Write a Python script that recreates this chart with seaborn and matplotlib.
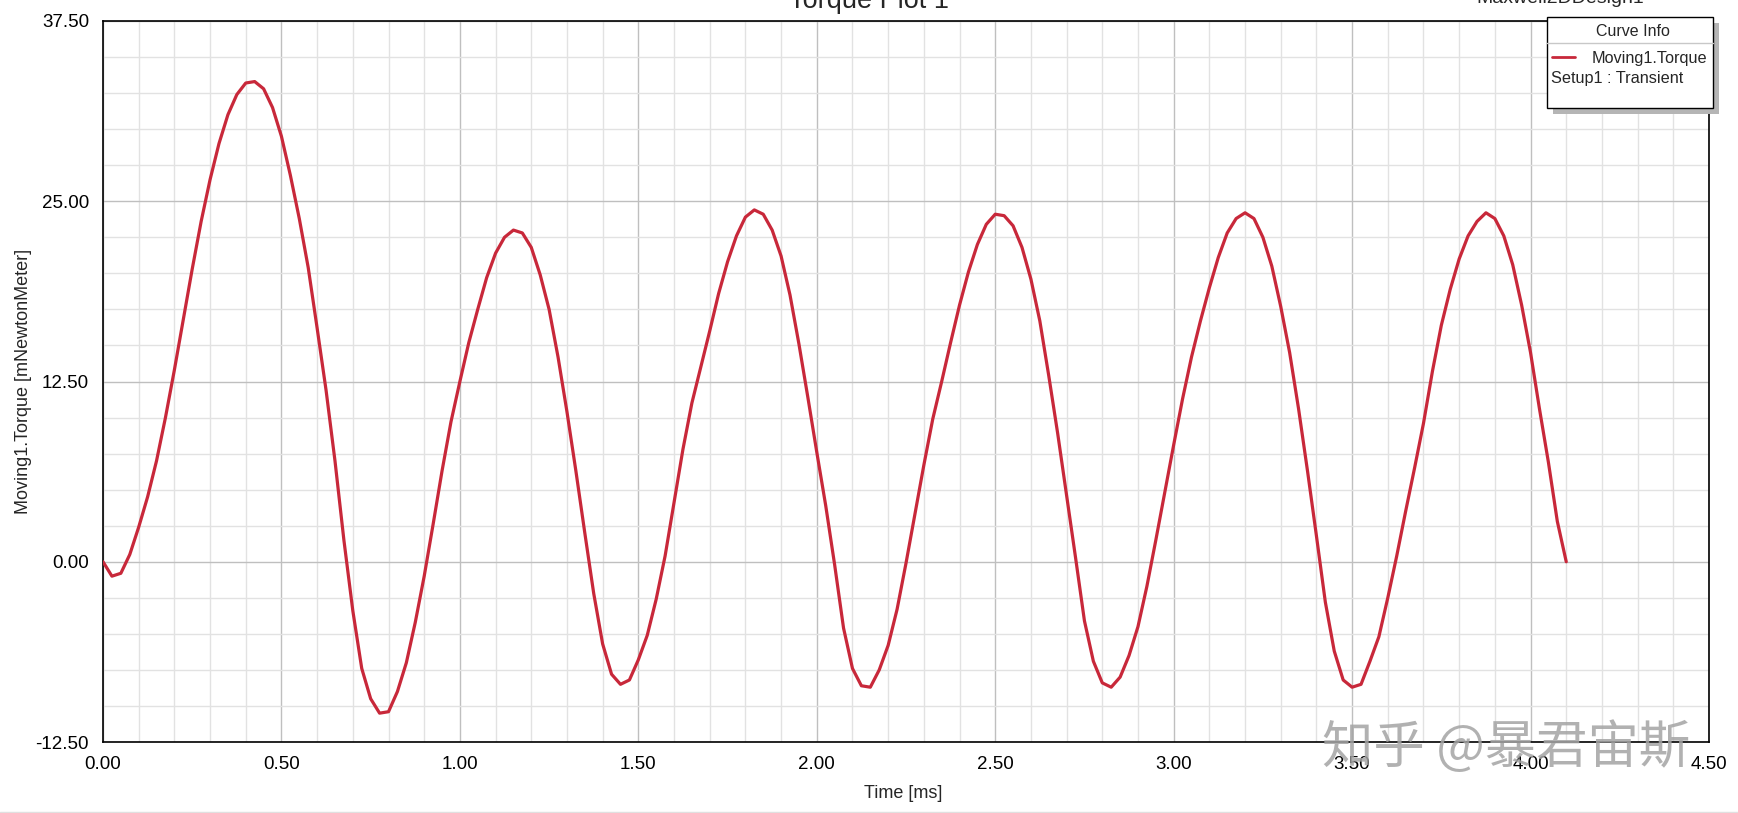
import numpy as np
import pandas as pd
import matplotlib
matplotlib.use("Agg")
import matplotlib.pyplot as plt
import seaborn as sns
from matplotlib.ticker import MultipleLocator, FormatStrFormatter
from matplotlib.patches import Rectangle
from matplotlib.lines import Line2D

# transient torque, one sample every 0.025 ms from 0 to 4.1 ms
time_step_ms = 0.025
torque_mNm = [
    0.0, -1.0, -0.8, 0.5, 2.4, 4.5, 7.0, 10.0, 13.3, 16.8,
    20.3, 23.6, 26.5, 29.0, 31.0, 32.4, 33.2, 33.3, 32.8, 31.5,
    29.5, 26.8, 23.8, 20.4, 16.2, 11.9, 7.0, 1.5, -3.4, -7.4,
    -9.5, -10.5, -10.4, -9.0, -7.0, -4.2, -1.0, 2.6, 6.3, 9.7,
    12.5, 15.2, 17.5, 19.7, 21.4, 22.5, 23.0, 22.8, 21.8, 19.9,
    17.5, 14.2, 10.4, 6.3, 2.0, -2.2, -5.7, -7.8, -8.5, -8.2,
    -6.8, -5.1, -2.6, 0.4, 4.1, 7.8, 11.0, 13.5, 16.0, 18.6,
    20.8, 22.6, 23.9, 24.4, 24.1, 23.0, 21.2, 18.5, 15.1, 11.4,
    7.6, 3.9, -0.2, -4.6, -7.4, -8.6, -8.7, -7.5, -5.8, -3.3,
    -0.1, 3.3, 6.7, 9.9, 12.5, 15.2, 17.8, 20.1, 22.0, 23.4,
    24.1, 24.0, 23.3, 21.8, 19.6, 16.7, 12.9, 8.9, 4.6, 0.3,
    -4.1, -6.9, -8.4, -8.7, -8.0, -6.5, -4.5, -1.7, 1.5, 4.8,
    8.1, 11.3, 14.2, 16.7, 19.0, 21.1, 22.8, 23.8, 24.2, 23.8,
    22.5, 20.5, 17.7, 14.5, 10.6, 6.3, 1.8, -2.8, -6.2, -8.2,
    -8.7, -8.5, -6.9, -5.2, -2.5, 0.4, 3.5, 6.5, 9.6, 13.2,
    16.4, 18.9, 21.0, 22.6, 23.6, 24.2, 23.8, 22.6, 20.6, 17.8,
    14.5, 10.6, 6.9, 2.8, 0.0,
]
time_ms = np.round(np.arange(len(torque_mNm)) * time_step_ms, 3)

x_limits = (0.0, 4.5)
y_limits = (-12.5, 37.5)

W, H = 1738, 813


def fig_xy(px, py):
    # pixel position (from top-left) -> figure fraction
    return px / W, 1 - py / H


sns.set_style("white")
plt.rcParams["font.family"] = ["Liberation Sans", "DejaVu Sans"]

fig = plt.figure(figsize=(W / 100, H / 100), dpi=100)
ax = fig.add_axes([103 / W, 1 - 742 / H, (1709 - 103) / W, (742 - 21) / H])

df = pd.DataFrame({"time": time_ms, "torque": torque_mNm})
sns.lineplot(data=df, x="time", y="torque", color="#c8283a", lw=2.3,
             legend=False, ax=ax, zorder=3)

ax.set_xlim(*x_limits)
ax.set_ylim(*y_limits)
ax.xaxis.set_major_locator(MultipleLocator(0.5))
ax.xaxis.set_minor_locator(MultipleLocator(0.1))
ax.yaxis.set_major_locator(MultipleLocator(12.5))
ax.yaxis.set_minor_locator(MultipleLocator(2.5))
ax.xaxis.set_major_formatter(FormatStrFormatter("%.2f"))
ax.yaxis.set_major_formatter(FormatStrFormatter("%.2f"))

ax.grid(which="major", color="#bfbfbf", lw=1)
ax.grid(which="minor", color="#e2e2e2", lw=1)
ax.set_axisbelow(True)
ax.tick_params(which="major", direction="out", length=6, width=1,
               labelsize=13.5, pad=4, colors="black")
ax.tick_params(which="minor", direction="out", length=3, width=1,
               colors="black")
for s in ax.spines.values():
    s.set_color("black")
    s.set_linewidth(1.2)

ax.set_xlabel("Time [ms]", fontsize=13)
ax.set_ylabel("Moving1.Torque [mNewtonMeter]", fontsize=13)
ax.xaxis.set_label_coords(0.498, -0.059)
ax.yaxis.set_label_coords(-0.044, 0.5)

# titles, cut off at the top edge like the original export
fig.text(*fig_xy(869, 8), "Torque Plot 1", ha="center", va="baseline", fontsize=19.5)
fig.text(*fig_xy(1560, 3), "Maxwell2DDesign1", ha="center", va="baseline", fontsize=14)

# "Curve Info" box
bx0, by0, bx1, by1 = 1547, 17, 1713, 108
fig.add_artist(Rectangle(fig_xy(bx0 + 6, by1 + 6), (bx1 - bx0) / W, (by1 - by0) / H,
                         transform=fig.transFigure, fc="#b5b5b5", ec="none", zorder=9))
fig.add_artist(Rectangle(fig_xy(bx0, by1), (bx1 - bx0) / W, (by1 - by0) / H,
                         transform=fig.transFigure, fc="white", ec="black", lw=1, zorder=10))
fig.add_artist(Line2D([bx0 / W, bx1 / W], [1 - 43 / H] * 2, transform=fig.transFigure,
                      color="#c8c8c8", lw=1, zorder=11))
fig.text(*fig_xy(1633, 32), "Curve Info", ha="center", va="center", fontsize=11.5, zorder=11)
fig.add_artist(Line2D([1552 / W, 1575 / W], [1 - 57 / H] * 2, transform=fig.transFigure,
                      color="#c8283a", lw=2, zorder=11))
fig.text(*fig_xy(1592, 58), "Moving1.Torque", ha="left", va="center", fontsize=11.7, zorder=11)
fig.text(*fig_xy(1551, 78), "Setup1 : Transient", ha="left", va="center", fontsize=11.7, zorder=11)

# watermark
fig.text(*fig_xy(1322, 748), "知乎 @暴君宙斯", ha="left", va="center", fontsize=37,
         color="#a4a4a4", alpha=0.85, family=["Noto Sans CJK SC", "DejaVu Sans"], zorder=20)

fig.add_artist(Line2D([0, 1], [1 - 811.5 / H] * 2, transform=fig.transFigure,
                      color="#e0e0e0", lw=1))

fig.savefig("out.png", dpi=100)
